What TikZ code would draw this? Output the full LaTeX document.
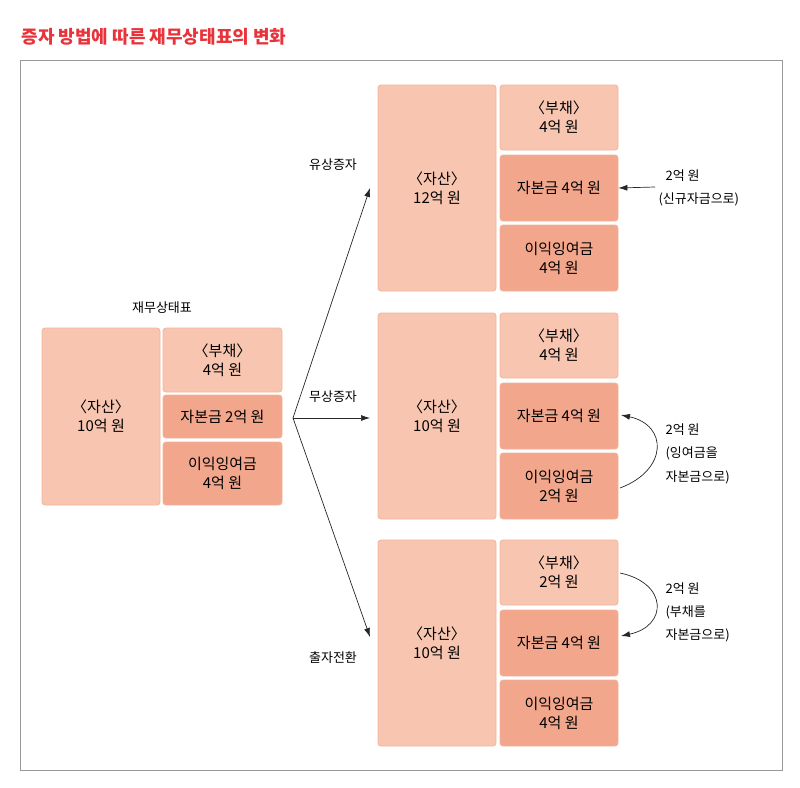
\documentclass[tikz,border=0pt]{standalone}
\usepackage{fontspec}
\setmainfont{Noto Sans CJK KR}
\usetikzlibrary{arrows.meta}
\definecolor{lt}{HTML}{F8C6B0}
\definecolor{dk}{HTML}{F2A68C}
\definecolor{ed}{HTML}{F0B49C}
\definecolor{ttl}{HTML}{E8333A}
\tikzset{
 bx/.style={draw=ed,line width=0.8pt,rounded corners=3pt,align=center,font=\fontsize{15}{19}\selectfont},
 lb/.style={font=\fontsize{13}{17}\selectfont,align=left},
 ar/.style={-{Latex[length=9pt,width=6pt]},line width=0.7pt,draw=black!85},
}
\newcommand{\bxx}[6]{\fill[#6] (#1,#2) rectangle (#3,#4);}
\begin{document}
\begin{tikzpicture}[x=1pt,y=-1pt]
\useasboundingbox (0,0) rectangle (800,787);
\node[anchor=west,font=\bfseries\fontsize{18}{22}\selectfont,text=ttl] (title) at (18,37) {증자 방법에 따른 재무상태표의 변화};
\draw[black!40,line width=0.6pt] (20,60) rectangle (782,770);
% left
\node[lb] (lt) at (162,308) {재무상태표};
\node[bx,fill=lt,minimum width=118pt,minimum height=177pt] (a0) at (101,416.5) {〈자산〉\\10억 원};
\node[bx,fill=lt,minimum width=119pt,minimum height=64pt] (b0) at (222.5,360) {〈부채〉\\4억 원};
\node[bx,fill=dk,minimum width=119pt,minimum height=43pt] (c0) at (222.5,416.5) {자본금 2억 원};
\node[bx,fill=dk,minimum width=119pt,minimum height=63pt] (d0) at (222.5,473.5) {이익잉여금\\4억 원};
\coordinate (o) at (293,418);
% groups
\foreach \n/\t/\asset/\deb/\cap/\ret/\ch in {1/85/12/4/4/4/66, 2/313/10/4/4/2/65, 3/540/10/2/4/4/65}{
 \node[bx,fill=lt,minimum width=118pt,minimum height=206pt] (a\n) at (437,\t+103) {〈자산〉\\\asset 억 원};
 \node[bx,fill=lt,minimum width=118pt,minimum height=65pt] (b\n) at (559,\t+32.5) {〈부채〉\\\deb 억 원};
 \node[bx,fill=dk,minimum width=118pt,minimum height=66pt] (c\n) at (559,\t+103) {자본금 \cap 억 원};
 \node[bx,fill=dk,minimum width=118pt,minimum height=66pt] (d\n) at (559,\t+173) {이익잉여금\\\ret 억 원};
}
\coordinate (e1) at (370,188);
\coordinate (e2) at (370,418);
\coordinate (e3) at (370,637);
\draw[ar] (o) -- (e1);
\draw[ar] (o) -- (e2);
\draw[ar] (o) -- (e3);
\node[lb] (l1) at (333,165) {유상증자};
\node[lb] (l2) at (333,397) {무상증자};
\node[lb] (l3) at (333,658) {출자전환};
% annotations
\coordinate (s1) at (655,187);
\draw[ar] (s1) -- (c1.east);
\node[lb,anchor=west] (t1) at (662,176) {2억 원};
\node[lb,anchor=west] (t1b) at (655,199) {(신규자금으로)};
\draw[ar] (620,488) .. controls (668,470) and (668,425) .. (621,415);
\node[lb,anchor=west] (t2) at (662,430) {2억 원};
\node[lb,anchor=west] (t2b) at (662,453) {(잉여금을};
\node[lb,anchor=west] (t2c) at (662,477) {자본금으로)};
\draw[ar] (620,573) .. controls (668,583) and (668,626) .. (621,636);
\node[lb,anchor=west] (t3) at (662,589) {2억 원};
\node[lb,anchor=west] (t3b) at (662,612) {(부채를};
\node[lb,anchor=west] (t3c) at (662,635) {자본금으로)};
\end{tikzpicture}
\end{document}
